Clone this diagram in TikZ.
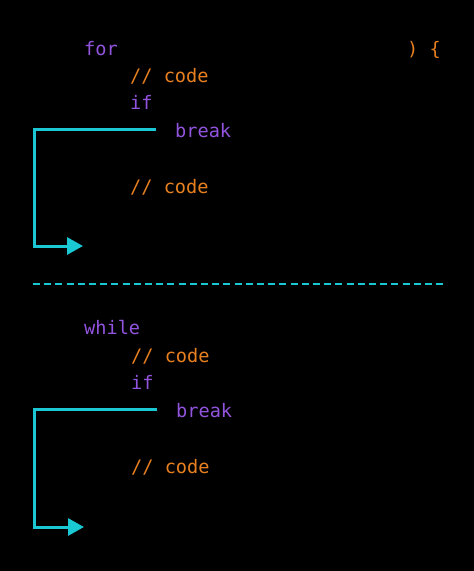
\documentclass[tikz,border=0pt]{standalone}
\usepackage{fontspec}
\setmonofont{DejaVu Sans Mono}
\usetikzlibrary{arrows.meta,positioning}
\definecolor{kwpurple}{RGB}{146,84,222}
\definecolor{cmtorange}{RGB}{232,128,32}
\definecolor{jumpcyan}{RGB}{26,200,212}

\begin{document}
\begin{tikzpicture}[
  x=1pt, y=-1pt,
  code/.style={anchor=base west, inner sep=0pt, font=\ttfamily\fontsize{18.6}{22}\selectfont},
  kw/.style={code, text=kwpurple},
  cmt/.style={code, text=cmtorange},
  jump/.style={-{Triangle[length=16pt,width=17pt]}, draw=jumpcyan, line width=3pt}
]
\fill[black] (0,0) rectangle (474,571);
\useasboundingbox (0,0) rectangle (474,571);

% for loop
\node[kw] (for) at (84,55) {for};
\node[cmt] (forend) at (407,55) {) \{};
\node[cmt] (code1) at (130,82) {// code};
\node[kw] (if1) at (130,109) {if};
\node[kw] (brk1) at (175,137) {break};
\node[cmt] (code2) at (130,193) {// code};
\coordinate (end1) at (83,246);
\draw[jump] ([xshift=-19pt,yshift=8pt]brk1.base west) -- (34,129) |- (end1);

% separator
\draw[jumpcyan, line width=2.6pt, dash pattern=on 7pt off 4.2pt] (33,284) -- (443,284);

% while loop
\node[kw] (while) at (84,334) {while};
\node[cmt] (code3) at (131,362) {// code};
\node[kw] (if2) at (131,389) {if};
\node[kw] (brk2) at (176,417) {break};
\node[cmt] (code4) at (131,473) {// code};
\coordinate (end2) at (84,527);
\draw[jump] ([xshift=-19pt,yshift=8pt]brk2.base west) -- (34,409) |- (end2);
\end{tikzpicture}
\end{document}
